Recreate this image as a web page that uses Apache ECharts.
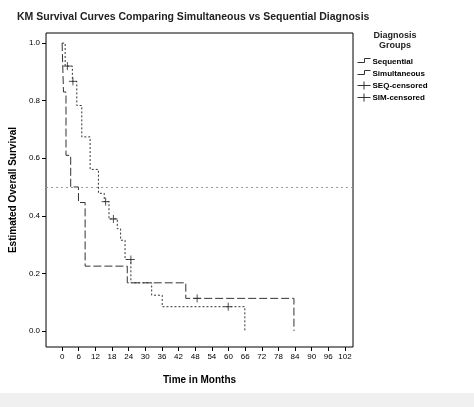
<!DOCTYPE html><html><head><meta charset="utf-8"><script src="https://cdn.jsdelivr.net/npm/echarts@6/dist/echarts.min.js"></script>
<style>body{margin:0;background:#fff}#c{width:474px;height:407px}#b{position:absolute;left:0;top:393px;width:474px;height:14px;background:#f0f0f0}</style></head><body><div id="c"></div><div id="b"></div><script>
const xTicks=[0,6,12,18,24,30,36,42,48,54,60,66,72,78,84,90,96,102];
const yTicks=[0,0.2,0.4,0.6,0.8,1.0];
const seqTimes=[0,0.5,1.4,3.1,5.9,8.3,23.5,44.6,83.6];
const seqSurv=[1.0,0.83,0.61,0.5,0.446,0.225,0.167,0.113,0];
const simTimes=[0,1.1,3.7,5.3,7.1,10.1,13.1,15.2,16.9,19.9,21.1,22.7,24.8,32.3,36.1,65.9];
const simSurv=[1.0,0.92,0.867,0.783,0.674,0.561,0.478,0.449,0.389,0.355,0.315,0.248,0.167,0.124,0.084,0];
const seqCens=[[48.7,0.113]];
const simCens=[[1.9,0.92],[3.9,0.867],[15.7,0.449],[18.5,0.389],[24.8,0.248],[59.9,0.084]];
function steps(t,s){const o=[[t[0],s[0]]];for(let i=1;i<t.length;i++){o.push([t[i],s[i-1]]);o.push([t[i],s[i]]);}return o;}
const ch=echarts.init(document.getElementById('c'));
const F='Liberation Sans';
const lbl={color:'#000',fontSize:8,fontFamily:F};
ch.setOption({animation:false,
title:{text:'KM Survival Curves Comparing Simultaneous vs Sequential Diagnosis',left:12,top:7,textStyle:{fontSize:10.5,fontWeight:'bold',fontFamily:F,color:'#222'}},
grid:{left:46,right:121,top:33,bottom:60,show:true,borderColor:'#000',borderWidth:1},
xAxis:{type:'value',min:-5.8,max:104.9,name:'Time in Months',nameLocation:'middle',nameGap:28,nameTextStyle:{fontSize:10,fontWeight:'bold',fontFamily:F,color:'#000'},
 axisLine:{show:false,onZero:false},splitLine:{show:false},axisTick:{customValues:xTicks,length:4,lineStyle:{color:'#000'}},axisLabel:Object.assign({customValues:xTicks,margin:6},lbl)},
yAxis:{type:'value',min:-0.056,max:1.035,name:'Estimated Overall Survival',nameLocation:'middle',nameGap:28,nameTextStyle:{fontSize:10,fontWeight:'bold',fontFamily:F,color:'#000'},
 axisLine:{show:false,onZero:false},splitLine:{show:false},axisTick:{customValues:yTicks,length:4,lineStyle:{color:'#000'}},axisLabel:Object.assign({customValues:yTicks,formatter:v=>v.toFixed(1),margin:6},lbl)},
series:[
{type:'line',data:steps(seqTimes,seqSurv),symbol:'none',lineStyle:{color:'#333',width:1,type:[8,3]},
 markLine:{silent:true,symbol:'none',label:{show:false},lineStyle:{color:'#999',type:[2,3],width:1},data:[{yAxis:0.5}]}},
{type:'line',data:steps(simTimes,simSurv),symbol:'none',lineStyle:{color:'#333',width:1,type:[2,2]}},
{type:'scatter',data:seqCens,symbol:'path://M0,5H10M5,0V10',symbolSize:8,itemStyle:{color:'none',borderColor:'#222',borderWidth:1}},
{type:'scatter',data:simCens,symbol:'path://M0,5H10M5,0V10',symbolSize:8,itemStyle:{color:'none',borderColor:'#222',borderWidth:1}}
],
graphic:[
{type:'text',x:395,y:31,style:{text:'Diagnosis\nGroups',align:'center',fontSize:9,fontWeight:'bold',fontFamily:F,fill:'#222',lineHeight:10}},
{type:'group',left:355,top:56,children:[
 {type:'polyline',shape:{points:[[0,5],[7,5],[7,1],[13,1]]},style:{stroke:'#333',fill:null,lineWidth:1}},
 {type:'text',x:15,y:0,style:{text:'Sequential',fontSize:8,fontWeight:'bold',fontFamily:F,fill:'#000'}},
 {type:'polyline',shape:{points:[[0,17],[7,17],[7,13],[13,13]]},style:{stroke:'#333',fill:null,lineWidth:1}},
 {type:'text',x:15,y:12,style:{text:'Simultaneous',fontSize:8,fontWeight:'bold',fontFamily:F,fill:'#000'}},
 {type:'line',shape:{x1:0,y1:28,x2:13,y2:28},style:{stroke:'#333'}},{type:'line',shape:{x1:6.5,y1:24,x2:6.5,y2:32},style:{stroke:'#333'}},
 {type:'text',x:15,y:24,style:{text:'SEQ-censored',fontSize:8,fontWeight:'bold',fontFamily:F,fill:'#000'}},
 {type:'line',shape:{x1:0,y1:40,x2:13,y2:40},style:{stroke:'#333'}},{type:'line',shape:{x1:6.5,y1:36,x2:6.5,y2:44},style:{stroke:'#333'}},
 {type:'text',x:15,y:36,style:{text:'SIM-censored',fontSize:8,fontWeight:'bold',fontFamily:F,fill:'#000'}}
]}]
});
</script></body></html>
